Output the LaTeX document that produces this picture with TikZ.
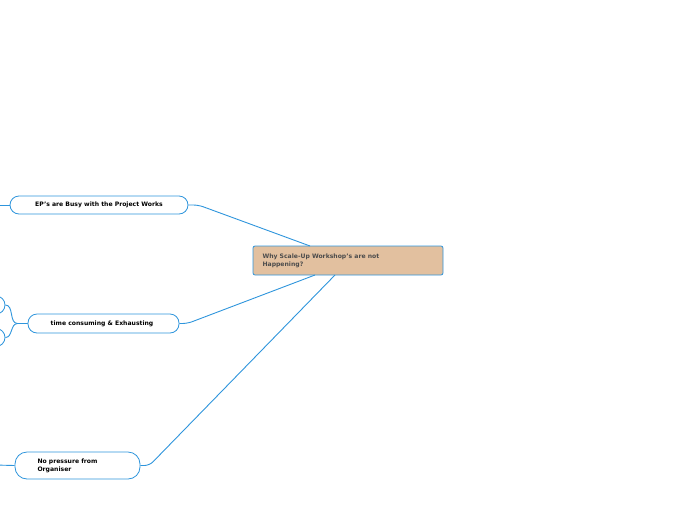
\documentclass[tikz,border=0pt]{standalone}
\usepackage{fontspec}
\setmainfont{DejaVu Sans}
\definecolor{lb}{HTML}{2E95DC}
\definecolor{cf}{HTML}{E2C09F}
\begin{document}
\begin{tikzpicture}[x=1pt,y=-1pt,
  leaf/.style={draw=lb,line width=0.8pt,rounded corners=9pt,fill=white,inner sep=0pt},
  txt/.style={font=\fontsize{6.1}{7.6}\selectfont\bfseries,align=left},
  conn/.style={draw=lb,line width=0.9pt,rounded corners=5pt}]
\useasboundingbox (0,0) rectangle (696,520);
\clip (0,0) rectangle (696,520);
\node[draw=lb,line width=0.8pt,fill=cf,rounded corners=2pt,minimum width=190pt,minimum height=29pt,inner sep=0pt] (c) at (348,260.5) {};
\node[txt,text=black!70,anchor=west] at (259,261) {Why Scale-Up Workshop's are not\\Happening?};
\node[leaf,minimum width=178pt,minimum height=18pt] (ep) at (99,205) {};
\node[txt] at (99,205) {EP's are Busy with the Project Works};
\node[leaf,minimum width=151pt,minimum height=19pt] (tc) at (103.5,323.5) {};
\node[txt] at (102,324) {time consuming \& Exhausting};
\node[leaf,minimum width=125pt,minimum height=27pt,rounded corners=12pt] (np) at (77.5,465.5) {};
\node[txt,anchor=west] at (34,466) {No pressure from\\Organiser};
\node[leaf,minimum width=60pt,minimum height=18pt] (s1) at (-25,305) {};
\node[leaf,minimum width=60pt,minimum height=18pt] (s2) at (-25,337.5) {};
\coordinate (e1) at (-5,205);
\coordinate (e3) at (-5,465);
\draw[conn] (ep.east) -- ++(10,0) -- (310,246);
\draw[conn] (tc.east) -- ++(8,0) -- (315,275);
\draw[conn] (np.east) -- ++(9,0) -- (335,275);
\draw[conn] (ep.west) -- (e1);
\draw[conn] (np.west) -- (e3);
\draw[draw=lb,line width=0.9pt] (tc.west) -- ++(-10,0) to[out=180,in=0] (s1.east);
\draw[draw=lb,line width=0.9pt] (tc.west) -- ++(-10,0) to[out=180,in=0] (s2.east);
\end{tikzpicture}
\end{document}
